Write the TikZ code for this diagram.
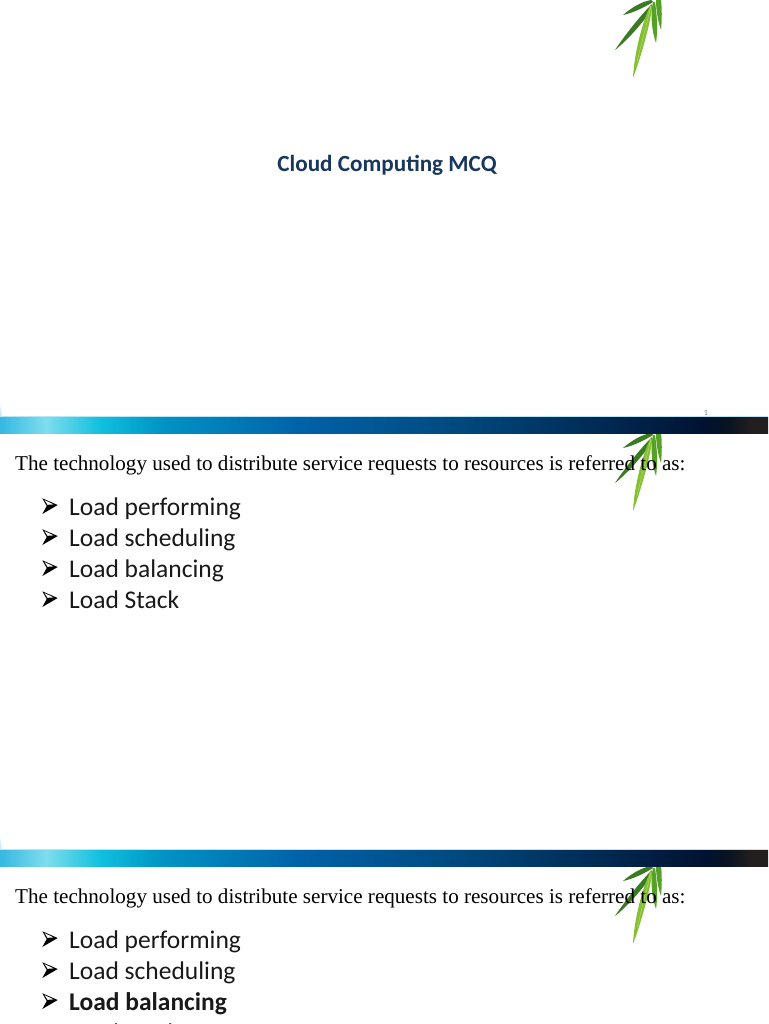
\documentclass[tikz,border=0pt]{standalone}
\usepackage{fontspec}
\setmainfont{Carlito}
\newfontfamily\qfont{Liberation Serif}
\definecolor{titleblue}{HTML}{17375E}
\definecolor{leafdark}{HTML}{3A7A22}
\definecolor{leafmid}{HTML}{55A126}
\definecolor{leaflight}{HTML}{86C032}
\definecolor{ba}{HTML}{35B8E2}
\definecolor{bb}{HTML}{7FDDEE}
\definecolor{bc}{HTML}{10C0DE}
\definecolor{bd}{HTML}{0094C4}
\definecolor{be}{HTML}{0062A8}
\definecolor{bf}{HTML}{004A80}
\definecolor{bg}{HTML}{002A54}
\definecolor{bh}{HTML}{001230}
\definecolor{bi}{HTML}{0A1420}
\definecolor{bj}{HTML}{231F1F}
\pgfdeclarehorizontalshading{barshade}{100bp}{
  color(0bp)=(ba);
  color(25bp)=(ba);
  color(28bp)=(bb);
  color(31.5bp)=(bc);
  color(35.5bp)=(bd);
  color(44.5bp)=(be);
  color(54.5bp)=(bf);
  color(64bp)=(bg);
  color(71bp)=(bh);
  color(72.5bp)=(bi);
  color(74bp)=(bj);
  color(100bp)=(bj)}
\tikzset{
  x=1pt,y=-1pt,
  titlenode/.style={anchor=base,font=\fontsize{23.15}{23}\selectfont\bfseries,text=titleblue,inner sep=0pt},
  question/.style={anchor=base west,font=\qfont\fontsize{21.1}{21}\selectfont,text=black,inner sep=0pt},
  item/.style={anchor=base west,font=\fontsize{25.5}{25}\selectfont,text=black!90,inner sep=0pt},
  pagenum/.style={font=\fontsize{8}{8}\selectfont,text=black!50,inner sep=0pt}
}
% #1 y offset
\newcommand{\bamboo}[1]{%
  \begin{scope}[yshift=-#1pt]
    \fill[leafdark] (651,0) .. controls (640,2) and (630,9) .. (623,15) .. controls (633,13) and (645,7) .. (653,2) -- cycle;
    \fill[leafdark] (652,4) .. controls (640,16) and (625,35) .. (615,50) .. controls (628,40) and (645,20) .. (652,9) -- cycle;
    \fill[leaflight] (651,4) .. controls (642,22) and (634,55) .. (633,78) .. controls (640,60) and (650,25) .. (652,8) -- cycle;
    \fill[leafmid] (653,2) .. controls (650,15) and (652,32) .. (656,43) .. controls (658,30) and (657,15) .. (655,2) -- cycle;
    \fill[leafmid] (656,0) .. controls (656,10) and (658,22) .. (661,30) .. controls (662,20) and (662,8) .. (661,0) -- cycle;
    \draw[leaflight!60!white,line width=.4pt] (651,6) -- (637,62);
  \end{scope}}
\newcommand{\band}[1]{%
  \fill[ba!35!white] (0,#1-1) rectangle (768,#1);
  \shade[shading=barshade] (0,#1) rectangle (768,#1+16);}
% #1 baseline y
\newcommand{\arrowbullet}[1]{%
  \begin{scope}[yshift=-#1pt]
    \fill[black] (42.3,-16.7) -- (57.7,-10) -- (42.3,-1) -- (46.7,-9) -- cycle;
    \fill[white] (44.6,-14.9) -- (53.5,-10.6) -- (47.6,-10.2) -- cycle;
  \end{scope}}
\begin{document}
\begin{tikzpicture}
  \useasboundingbox (0,0) rectangle (768,1024);
  \clip (0,0) rectangle (768,1024);
  \fill[white] (0,0) rectangle (768,1024);
  \bamboo{0}
  \bamboo{433}
  \bamboo{866}
  \band{417}
  \band{850}
  \fill[ba!25!white] (0,405) -- (2,416) -- (0,416) -- cycle;
  \fill[ba!25!white] (0,838) -- (2,849) -- (0,849) -- cycle;
  \node[titlenode] (title) at (387,172) {Cloud Computing MCQ};
  \node[pagenum] (pagenum) at (706,413) {1};
  \node[question] (q1) at (15,470) {The technology used to distribute service requests to resources is referred to as:};
  \arrowbullet{515}
  \node[item] (i1a) at (69,515) {Load performing};
  \arrowbullet{546}
  \node[item] (i1b) at (69,546) {Load scheduling};
  \arrowbullet{577}
  \node[item] (i1c) at (69,577) {Load balancing};
  \arrowbullet{608}
  \node[item] (i1d) at (69,608) {Load Stack};
  \node[question] (q2) at (15,903) {The technology used to distribute service requests to resources is referred to as:};
  \arrowbullet{948}
  \node[item] (i2a) at (69,948) {Load performing};
  \arrowbullet{979}
  \node[item] (i2b) at (69,979) {Load scheduling};
  \arrowbullet{1010}
  \node[item,font=\fontsize{25.5}{25}\selectfont\bfseries] (i2c) at (69,1010) {Load balancing};
  \arrowbullet{1041}
  \node[item] (i2d) at (69,1041) {Load Stack};
\end{tikzpicture}
\end{document}
